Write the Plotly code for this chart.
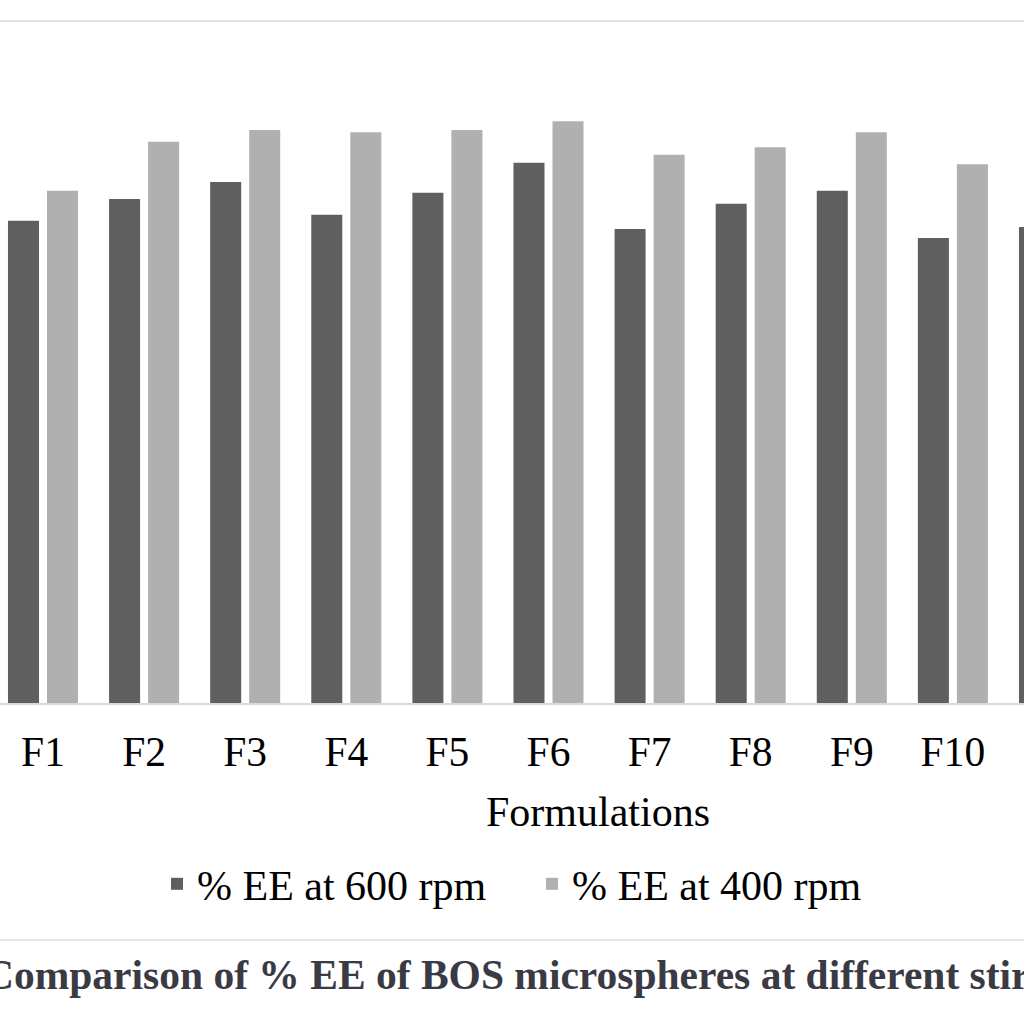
import plotly.graph_objects as go

categories = ["F1", "F2", "F3", "F4", "F5", "F6", "F7", "F8", "F9", "F10", "F11"]
ee_600 = [70.7, 73.9, 76.4, 71.6, 74.8, 79.2, 69.5, 73.2, 75.1, 68.2, 69.8]
ee_400 = [75.1, 82.3, 84.0, 83.7, 84.0, 85.3, 80.4, 81.5, 83.7, 79.0, 80.5]

W, H = 1024, 1024
top_px, bot_px = 21, 703
def py(p):
    return (bot_px - p) / (bot_px - top_px)
def px(p):
    return p / W

FONT = "Liberation Serif, Times New Roman, serif"

fig = go.Figure()
fig.add_trace(go.Bar(x=categories, y=ee_600, name="% EE at 600 rpm",
                     marker=dict(color="#5f5f5f", line=dict(width=0))))
fig.add_trace(go.Bar(x=categories, y=ee_400, name="% EE at 400 rpm",
                     marker=dict(color="#b0b0b0", line=dict(width=0))))

step = 101.1
c0 = 43.0
r0 = -c0 / step
r1 = r0 + W / step

fig.update_layout(
    width=W, height=H,
    margin=dict(l=0, r=0, t=top_px, b=H - bot_px, autoexpand=False),
    paper_bgcolor="white", plot_bgcolor="white",
    barmode="group", bargap=0.228, bargroupgap=0.205,
    font=dict(family=FONT, size=42, color="black"),
    xaxis=dict(range=[r0, r1], showgrid=False, showline=True, linecolor="#d9d9d9",
               linewidth=2, ticks="", ticklabelstandoff=11,
               tickfont=dict(family=FONT, size=41.5, color="black")),
    yaxis=dict(range=[0, 100], visible=False, showgrid=False),
    showlegend=True,
    legend=dict(orientation="h", x=px(157), xanchor="left", y=py(884), yanchor="middle",
                font=dict(family=FONT, size=42, color="black"),
                traceorder="normal", entrywidth=330, entrywidthmode="pixels",
                bgcolor="rgba(0,0,0,0)"),
    shapes=[
        dict(type="line", xref="paper", yref="paper", x0=0, x1=1, y0=py(21), y1=py(21),
             line=dict(color="#e2e2e2", width=2)),
        dict(type="line", xref="paper", yref="paper", x0=0, x1=1, y0=py(940), y1=py(940),
             line=dict(color="#e4e6ea", width=2)),
    ],
    annotations=[
        dict(text="Formulations", xref="paper", yref="paper", x=px(598), y=py(812),
             xanchor="center", yanchor="middle", showarrow=False,
             font=dict(family=FONT, size=42, color="black")),
        dict(text="<b>Comparison of % EE of BOS microspheres at different stirring speeds</b>",
             xref="paper", yref="paper", x=px(-18), y=py(975),
             xanchor="left", yanchor="middle", showarrow=False,
             font=dict(family=FONT, size=41.5, color="#3a3a44")),
    ],
)

fig.write_html("out.html")
